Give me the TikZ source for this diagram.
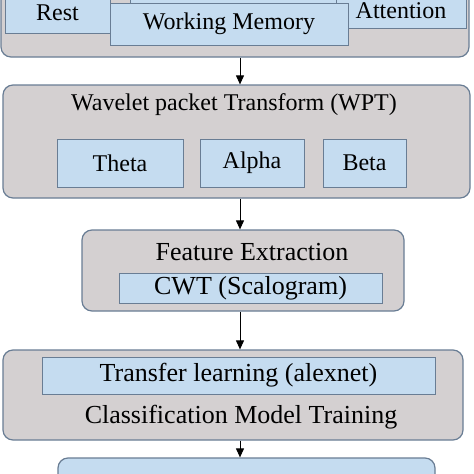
\documentclass[tikz,border=0pt]{standalone}
\usepackage{fontspec}
\setmainfont{Liberation Serif}
\usetikzlibrary{arrows.meta,positioning}
\definecolor{panelgrey}{RGB}{212,208,209}
\definecolor{boxblue}{RGB}{197,220,240}
\definecolor{edgeslate}{RGB}{105,125,148}
\begin{document}
\begin{tikzpicture}[x=1pt,y=-1pt,
      stage/.style={
        % The shape:
        rectangle,rounded corners=10pt,inner sep=0pt,
        % The rest
        line width=1.2pt,draw=edgeslate,fill=panelgrey},
      band/.style={
        rectangle,inner sep=0pt,line width=1pt,draw=edgeslate,fill=boxblue,
        font=\fontsize{24}{26}\selectfont},
      caption/.style={inner sep=0pt,font=\fontsize{24}{26}\selectfont},
      big/.style={font=\fontsize{26}{28}\selectfont},
      flow/.style={line width=1pt,-{Triangle[length=9pt,width=8pt]}}]
    \useasboundingbox (0,0) rectangle (474,474);
    \clip (0,0) rectangle (474,474);
    % EEG task panel (cut at the top)
    \node(eeg)[stage, minimum width=468pt, minimum height=82pt] at (235,16) {};
    \node(task)[band, minimum width=207pt, minimum height=40pt] at (233.5,-16) {};
    \node(rest)[band, minimum width=105pt, minimum height=40pt] at (57.5,13) {Rest};
    \node(att)[band, minimum width=130pt, minimum height=34pt] at (401,11) {Attention};
    \node(wm)[band, minimum width=238pt, minimum height=41.5pt] at (229,24.25) {Working Memory};
    % WPT
    \node(wpt)[stage, minimum width=467pt, minimum height=113pt] at (236.5,141.5) {};
    \node(wpttitle)[caption] at (234,105) {Wavelet packet Transform (WPT)};
    \node(theta)[band, minimum width=126pt, minimum height=48pt] at (120,163) {Theta};
    \node(alpha)[band, minimum width=104pt, minimum height=48pt, right=16pt, at=(theta.east)] {Alpha};
    \node(beta)[band, minimum width=83pt, minimum height=48pt, right=18pt, at=(alpha.east)] {Beta};
    % features
    \node(fe)[stage, minimum width=322pt, minimum height=81pt] at (243,270.5) {};
    \node(fetitle)[caption, big] at (252,252) {Feature Extraction};
    \node(cwt)[band, big, minimum width=263pt, minimum height=30pt] at (250.5,288) {CWT (Scalogram)};
    % training
    \node(cmt)[stage, minimum width=460pt, minimum height=90pt] at (233,395) {};
    \node(tl)[band, big, minimum width=393pt, minimum height=37pt] at (238.5,375.5) {Transfer learning (alexnet)};
    \node(cmttitle)[caption, big] at (241,417) {Classification Model Training};
    \node(result)[stage, fill=boxblue, minimum width=377pt, minimum height=42pt] at (246.5,479) {};

    \coordinate(ax) at (240,0);
    \draw[flow] (eeg.south -| ax) -- (wpt.north -| ax);
    \draw[flow] (wpt.south -| ax) -- (fe.north -| ax);
    \draw[flow] (fe.south -| ax) -- (cmt.north -| ax);
    \draw[flow] (cmt.south -| ax) -- (result.north -| ax);
  \end{tikzpicture}
\end{document}
